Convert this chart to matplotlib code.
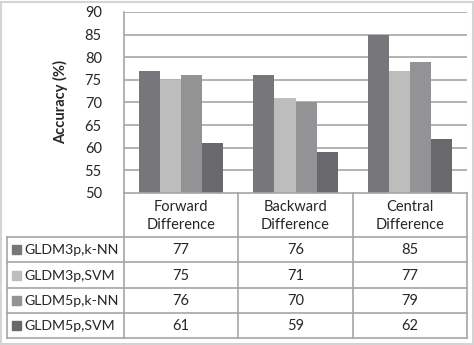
import numpy as np
import matplotlib
matplotlib.use('Agg')
import matplotlib.pyplot as plt
from matplotlib.patches import Rectangle

# data
categories = ['Forward\nDifference', 'Backward\nDifference', 'Central\nDifference']
series_names = ['GLDM3p,k-NN', 'GLDM3p,SVM', 'GLDM5p,k-NN', 'GLDM5p,SVM']
gldm3p_knn = [77, 76, 85]
gldm3p_svm = [75, 71, 77]
gldm5p_knn = [76, 70, 79]
gldm5p_svm = [61, 59, 62]
yticks = [50, 55, 60, 65, 70, 75, 80, 85, 90]

series = [gldm3p_knn, gldm3p_svm, gldm5p_knn, gldm5p_svm]
colors = ['#77777b', '#bdbdbd', '#939395', '#69696d']
grid_col = '#a6a6a6'
text_col = '#262626'

plt.rcParams['font.family'] = ['Lato', 'DejaVu Sans']

W, H = 474, 345
fig = plt.figure(figsize=(W / 100, H / 100), dpi=100)

def px_axes(x0, y0, x1, y1):
    # pixel box (top-left origin) -> figure fraction axes
    return fig.add_axes([x0 / W, 1 - y1 / H, (x1 - x0) / W, (y1 - y0) / H])

# outer light frame
fig.patches.append(Rectangle((0.002, 0.004), 0.995, 0.99, transform=fig.transFigure,
                             fill=False, edgecolor='#d4d4d4', linewidth=1.5))

# ---- bar area
left, right, top, bottom = 124, 467, 12, 193
ax = px_axes(left, top, right, bottom)
n = len(series)
bw = 0.184
x = np.arange(len(categories)) + 0.5
for i, vals in enumerate(series):
    ax.bar(x + (i - (n - 1) / 2) * bw, np.array(vals) - 50, bottom=50, width=bw,
           color=colors[i], edgecolor='none', zorder=3)
ax.set_xlim(0, len(categories))
ax.set_ylim(50, 90)
ax.set_yticks(yticks)
ax.set_yticklabels([str(t) for t in yticks], fontsize=10.5, color=text_col)
ax.set_xticks([])
ax.tick_params(axis='y', length=0, pad=16)
for t in yticks[1:]:
    ax.axhline(t, color=grid_col, linewidth=1.2, zorder=1)
for s in ['top', 'right', 'bottom']:
    ax.spines[s].set_visible(False)
ax.spines['left'].set_color(grid_col)
ax.spines['left'].set_linewidth(1.2)
ax.set_ylabel('Accuracy (%)', fontsize=10.5, fontweight='bold', color=text_col, labelpad=12)

# ---- data table
tleft, tbottom = 7, 338
header_h = 44
row_h = 25
tax = px_axes(tleft, bottom, right, tbottom)
unit = (right - left) / len(categories)
label_w = (left - tleft) / unit
tax.set_xlim(-label_w, len(categories))
tax.set_ylim(header_h + row_h * n, 0)
tax.axis('off')

lw = 1.2
# header
for j in range(len(categories) + 1):
    tax.plot([j, j], [0, header_h + row_h * n], color=grid_col, lw=lw, clip_on=False)
tax.plot([0, len(categories)], [0, 0], color=grid_col, lw=lw, clip_on=False)
for j, cat in enumerate(categories):
    tax.text(j + 0.5, header_h / 2 + 1, cat, ha='center', va='center', fontsize=10.5,
             color=text_col, linespacing=1.4)
# rows
for r in range(n + 1):
    yy = header_h + r * row_h
    tax.plot([-label_w, len(categories)], [yy, yy], color=grid_col, lw=lw, clip_on=False)
tax.plot([-label_w, -label_w], [header_h, header_h + row_h * n], color=grid_col, lw=lw, clip_on=False)
for r, (name, vals) in enumerate(zip(series_names, series)):
    yc = header_h + r * row_h + row_h / 2
    tax.add_patch(Rectangle((-label_w + 5 / unit, yc - 4.5), 9 / unit, 9, color=colors[r], clip_on=False))
    tax.text(-label_w + 17 / unit, yc + 0.5, name, ha='left', va='center', fontsize=10.2, color=text_col)
    for j, v in enumerate(vals):
        tax.text(j + 0.5, yc + 0.5, str(v), ha='center', va='center', fontsize=10.5, color=text_col)

fig.savefig('out.png', dpi=100)
